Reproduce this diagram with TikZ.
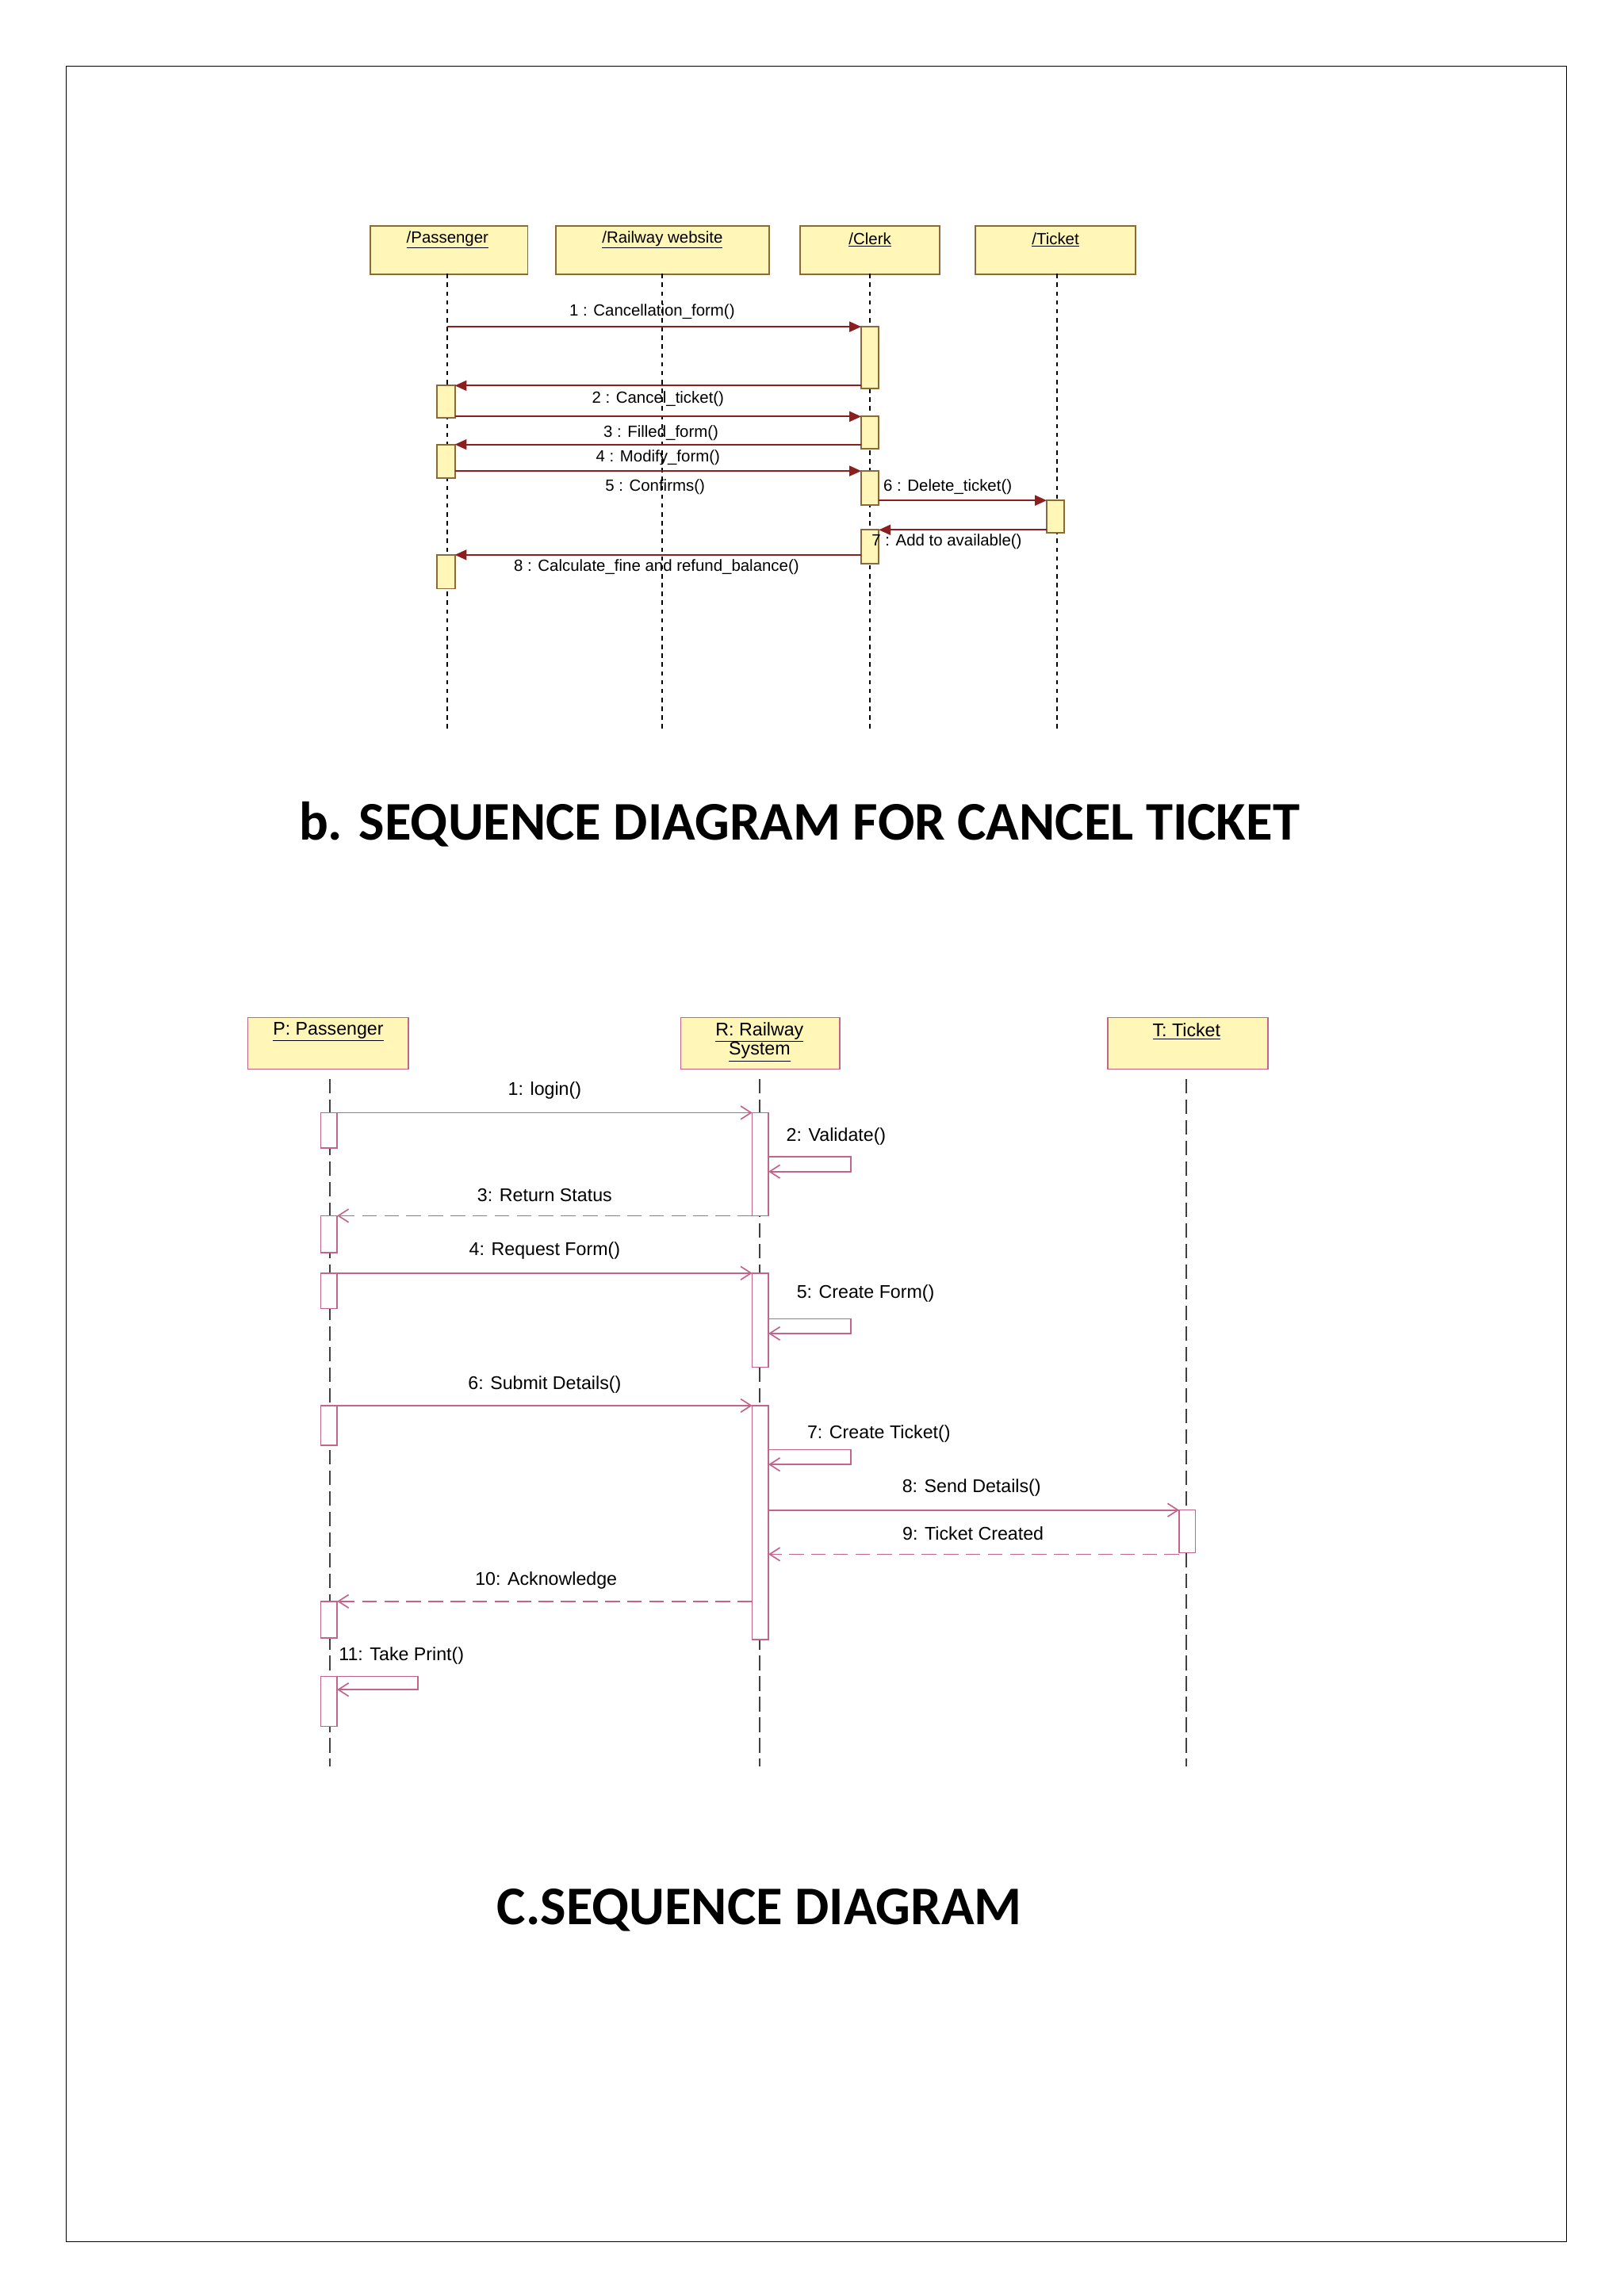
\documentclass[tikz,border=0pt]{standalone}
\usepackage{fontspec}
\setmainfont{Liberation Sans}
\newfontfamily\titlefont{Carlito}
\usetikzlibrary{arrows.meta}
\definecolor{boxfill}{HTML}{FFF6B8}
\definecolor{boxline}{HTML}{8A6A3A}
\definecolor{msgA}{HTML}{8B1E1E}
\definecolor{msgB}{HTML}{C4648A}
\tikzset{
  hdrA/.style={draw=boxline,fill=boxfill,line width=1pt,inner sep=0pt,anchor=north west},
  hdrB/.style={draw=msgB,fill=boxfill,line width=0.8pt,inner sep=0pt,anchor=north west},
  lifeA/.style={black,line width=1pt,dash pattern=on 3pt off 3pt},
  lifeB/.style={black!75,line width=0.9pt,dash pattern=on 10pt off 4pt},
  actA/.style={draw=boxline,fill=boxfill,line width=1pt},
  actB/.style={draw=msgB,fill=white,line width=0.8pt},
  mA/.style={msgA,line width=1pt,-{Triangle[length=8pt,width=7pt]}},
  mB/.style={msgB,line width=0.9pt,-{Straight Barb[length=7pt,width=9pt]}},
  rB/.style={mB,dash pattern=on 10pt off 5pt},
  lA/.style={font=\fontsize{11}{13}\selectfont,inner sep=0pt},
  lB/.style={font=\fontsize{12.5}{14}\selectfont,inner sep=0pt},
  ttl/.style={font=\titlefont\bfseries\fontsize{37}{42}\selectfont,inner sep=0pt}
}
\begin{document}
\begin{tikzpicture}[x=1pt,y=-1pt]
\useasboundingbox (0,0) rectangle (1103,1560);
\fill[white] (0,0) rectangle (1103,1560);
\draw[line width=0.8pt] (45,45) rectangle (1064,1523);
% ---------------- Diagram b ----------------
\node[hdrA,minimum width=107pt,minimum height=33pt] (pa) at (251,153) {};
\node[lA] at (304,163) {\underline{/Passenger}};
\node[hdrA,minimum width=145pt,minimum height=33pt] (rw) at (377,153) {};
\node[lA] at (450,163) {\underline{/Railway website}};
\node[hdrA,minimum width=95pt,minimum height=33pt] (cl) at (543,153) {};
\node[lA] at (591,163) {\underline{/Clerk}};
\node[hdrA,minimum width=109pt,minimum height=33pt] (tk) at (662,153) {};
\node[lA] at (717,163) {\underline{/Ticket}};
\coordinate (pe) at (304,497); \coordinate (re) at (450,497);
\coordinate (ce) at (591,497); \coordinate (te) at (718,497);
\draw[lifeA] (304,186) -- (pe);
\draw[lifeA] (450,186) -- (re);
\draw[lifeA] (591,186) -- (ce);
\draw[lifeA] (718,186) -- (te);
% activations
\draw[actA] (585,222) rectangle (597,264);
\draw[actA] (297,262) rectangle (309,284);
\draw[actA] (585,283) rectangle (597,305);
\draw[actA] (297,302) rectangle (309,325);
\draw[actA] (585,320) rectangle (597,343);
\draw[actA] (711,340) rectangle (723,362);
\draw[actA] (585,360) rectangle (597,383);
\draw[actA] (297,377) rectangle (309,400);
% messages
\draw[mA] (304,222) -- (585,222);
\node[lA] at (443,212) {1 : Cancellation\_form()};
\draw[mA] (585,262) -- (309,262);
\node[lA] at (447,271) {2 : Cancel\_ticket()};
\draw[mA] (309,283) -- (585,283);
\node[lA] at (449,294) {3 : Filled\_form()};
\draw[mA] (585,302) -- (309,302);
\draw[mA] (309,320) -- (585,320);
\node[lA] at (447,311) {4 : Modify\_form()};
\node[lA] at (445,331) {5 : Confirms()};
\node[lA,anchor=west] at (600,331) {6 : Delete\_ticket()};
\draw[mA] (597,340) -- (711,340);
\draw[mA] (711,360) -- (597,360);
\node[lA,anchor=west] at (592,368) {7 : Add to available()};
\draw[mA] (585,377) -- (309,377);
\node[lA] at (446,385) {8 : Calculate\_fine and refund\_balance()};
\node[ttl] (t1) at (543,560) {b. SEQUENCE DIAGRAM FOR CANCEL TICKET};
% ---------------- Diagram c ----------------
\node[hdrB,minimum width=109pt,minimum height=35pt] (pb) at (168,691) {};
\node[lB] at (223,701) {\underline{P: Passenger}};
\node[hdrB,minimum width=108pt,minimum height=35pt] (rb) at (462,691) {};
\node[lB,align=center] at (516,708) {\underline{R: Railway}\\[-1pt]\underline{System}};
\node[hdrB,minimum width=109pt,minimum height=35pt] (tb) at (752,691) {};
\node[lB] at (806,701) {\underline{T: Ticket}};
\draw[lifeB] (224,733) -- (224,1200);
\draw[lifeB] (516,733) -- (516,1200);
\draw[lifeB] (806,733) -- (806,1200);
% activations
\draw[actB] (218,756) rectangle (229,780);
\draw[actB] (511,756) rectangle (522,826);
\draw[actB] (218,826) rectangle (229,851);
\draw[actB] (218,865) rectangle (229,889);
\draw[actB] (511,865) rectangle (522,929);
\draw[actB] (218,955) rectangle (229,982);
\draw[actB] (511,955) rectangle (522,1114);
\draw[actB] (801,1026) rectangle (812,1055);
\draw[actB] (218,1088) rectangle (229,1113);
\draw[actB] (218,1139) rectangle (229,1173);
% messages
\draw[mB] (229,756) -- (511,756);
\node[lB] at (370,741) {1: login()};
\draw[mB] (522,786) -- (578,786) -- (578,796) -- (522,796);
\node[lB] at (568,772) {2: Validate()};
\draw[rB] (511,826) -- (229,826);
\node[lB] at (370,812) {3: Return Status};
\draw[mB] (229,865) -- (511,865);
\node[lB] at (370,850) {4: Request Form()};
\draw[mB] (522,896) -- (578,896) -- (578,906) -- (522,906);
\node[lB] at (588,879) {5: Create Form()};
\draw[mB] (229,955) -- (511,955);
\node[lB] at (370,941) {6: Submit Details()};
\draw[mB] (522,985) -- (578,985) -- (578,995) -- (522,995);
\node[lB] at (597,974) {7: Create Ticket()};
\draw[mB] (522,1026) -- (801,1026);
\node[lB] at (660,1011) {8: Send Details()};
\draw[rB] (801,1056) -- (522,1056);
\node[lB] at (661,1042) {9: Ticket Created};
\draw[rB] (511,1088) -- (229,1088);
\node[lB] at (371,1074) {10: Acknowledge};
\draw[mB] (229,1139) -- (284,1139) -- (284,1148) -- (229,1148);
\node[lB,anchor=west] at (230,1125) {11: Take Print()};
\node[ttl] (t2) at (516,1298) {C.SEQUENCE DIAGRAM};
\end{tikzpicture}
\end{document}
